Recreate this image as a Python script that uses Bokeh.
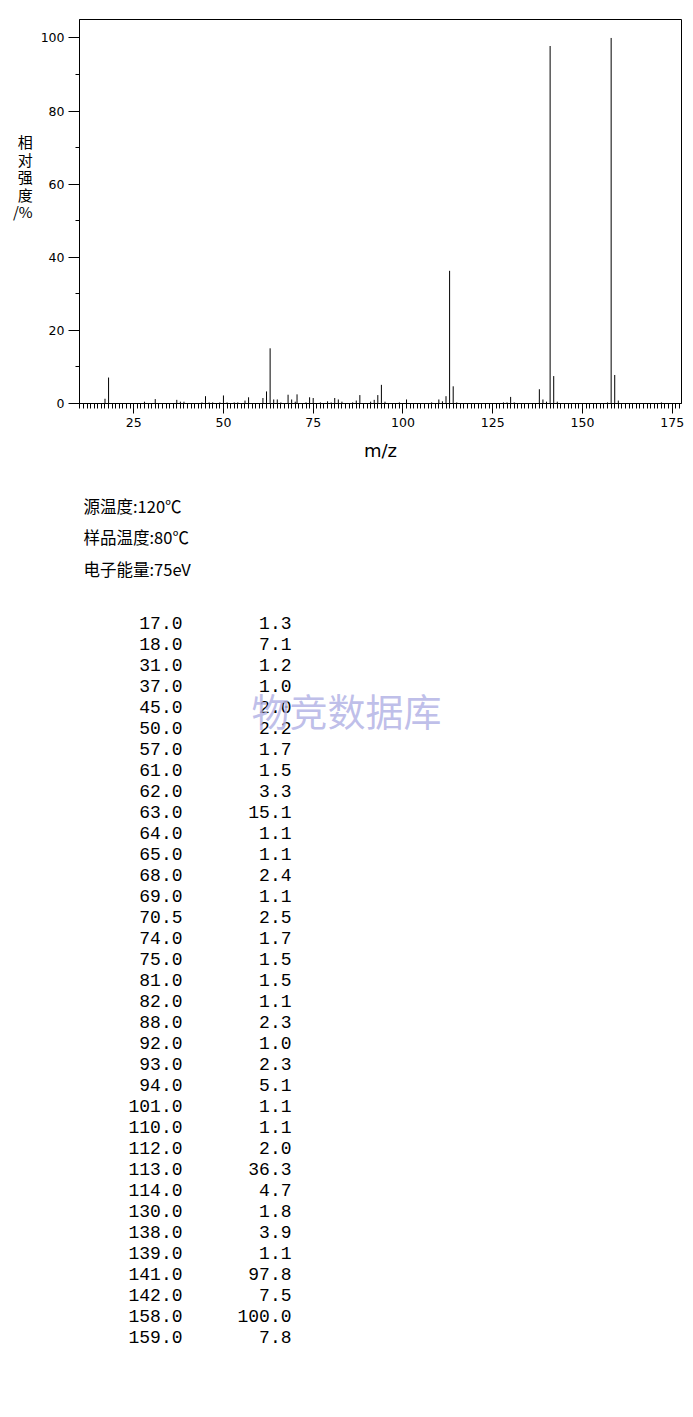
import math
from bokeh.plotting import figure
from bokeh.models import Range1d, ColumnDataSource, SingleIntervalTicker
from bokeh.layouts import column
from bokeh.core.properties import value
from bokeh.embed import file_html
from bokeh.resources import INLINE

# ---- data ----
# listed peaks (m/z, relative intensity %)
table_mz = [17.0, 18.0, 31.0, 37.0, 45.0, 50.0, 57.0, 61.0, 62.0, 63.0, 64.0, 65.0,
            68.0, 69.0, 70.5, 74.0, 75.0, 81.0, 82.0, 88.0, 92.0, 93.0, 94.0, 101.0,
            110.0, 112.0, 113.0, 114.0, 130.0, 138.0, 139.0, 141.0, 142.0, 158.0, 159.0]
table_int = [1.3, 7.1, 1.2, 1.0, 2.0, 2.2, 1.7, 1.5, 3.3, 15.1, 1.1, 1.1,
             2.4, 1.1, 2.5, 1.7, 1.5, 1.5, 1.1, 2.3, 1.0, 2.3, 5.1, 1.1,
             1.1, 2.0, 36.3, 4.7, 1.8, 3.9, 1.1, 97.8, 7.5, 100.0, 7.8]
# weak peaks (< 1 %)
minor_mz = [28, 38, 39, 44, 46, 47, 49, 51, 53, 54, 56, 66, 70, 73, 77, 79, 80, 83,
            86, 87, 91, 95, 99, 108, 111, 115, 128, 129, 131, 140, 143, 157, 160, 172]
minor_int = [0.5, 0.5, 0.5, 0.3, 0.3, 0.3, 0.3, 0.3, 0.3, 0.3, 0.8, 0.3, 0.5, 0.3,
             0.3, 0.6, 0.3, 0.5, 0.3, 0.8, 0.5, 0.5, 0.3, 0.3, 0.6, 0.3, 0.3, 0.3,
             0.3, 0.5, 0.5, 0.3, 0.8, 0.3]
x_label = "m/z"
y_label_chars = ["相", "对", "强", "度", "/%"]
conditions = ["源温度:120℃", "样品温度:80℃", "电子能量:75eV"]
watermark = "物竞数据库"

# ---- spectrum ----
X0, X1 = 9.9, 177.6
Y0, Y1 = 0, 105.05
all_mz = table_mz + minor_mz
all_int = table_int + minor_int
src = ColumnDataSource(dict(x=all_mz, y0=[0] * len(all_mz), y1=all_int))

W = 690
p = figure(width=W, height=480, output_backend="svg", toolbar_location=None,
           x_range=Range1d(X0, X1), y_range=Range1d(Y0, Y1),
           min_border_left=79, min_border_right=W - 681, min_border_top=19,
           min_border_bottom=77)
p.segment(x0="x", y0="y0", x1="x", y1="y1", source=src, line_color="black", line_width=1)

p.xgrid.visible = False
p.ygrid.visible = False
p.outline_line_color = "black"
p.outline_line_width = 1
p.background_fill_color = "white"
p.border_fill_color = "white"

xa = p.xaxis[0]
xa.ticker = SingleIntervalTicker(interval=25, num_minor_ticks=25)
xa.major_tick_out = 10
xa.major_tick_in = 0
xa.minor_tick_out = 5
xa.minor_tick_in = 0
xa.axis_line_color = "black"
xa.major_label_text_font = "DejaVu Sans"
xa.major_label_text_font_size = "12.5px"
xa.major_label_text_color = "black"
xa.major_label_standoff = 4
xa.axis_label = x_label
xa.axis_label_text_font = "DejaVu Sans"
xa.axis_label_text_font_size = "18px"
xa.axis_label_text_font_style = "normal"
xa.axis_label_text_color = "black"
xa.axis_label_standoff = 10

ya = p.yaxis[0]
ya.ticker = SingleIntervalTicker(interval=20, num_minor_ticks=2)
ya.major_tick_out = 11
ya.major_tick_in = 0
ya.minor_tick_out = 4
ya.minor_tick_in = 0
ya.axis_line_color = "black"
ya.major_label_text_font = "DejaVu Sans"
ya.major_label_text_font_size = "12.5px"
ya.major_label_text_color = "black"
ya.major_label_standoff = 4
ya.axis_label_text_font = "Noto Sans CJK SC"
ya.axis_label_text_font_size = "15px"
ya.axis_label_text_font_style = "normal"
ya.axis_label_text_color = "black"
ya.axis_label_text_line_height = 0.83
ya.axis_label_standoff = 5
# stacked vertical title; trailing empty lines lift the block above the frame centre
try:
    ya.axis_label_orientation = "horizontal"
    ya.axis_label = "\n".join(y_label_chars) + "\n\n\n\n"
except Exception:
    ya.axis_label = "".join(y_label_chars)

# ---- text panel below (coordinates = page pixels) ----
q = figure(width=W, height=930, output_backend="svg", toolbar_location=None,
           x_range=Range1d(79, 681), y_range=Range1d(1410, 480),
           min_border_left=79, min_border_right=W - 681,
           min_border_top=0, min_border_bottom=0)
q.axis.visible = False
q.grid.visible = False
q.outline_line_color = None
q.background_fill_color = "white"
q.border_fill_color = "white"

cond_y = [505, 536, 568]
q.text(x=[83] * len(conditions), y=cond_y, text=conditions,
       text_font=value("Noto Sans CJK SC"), text_font_size=value("16.5px"),
       text_align="left", text_baseline="middle", text_color="black")

rows_y = [622 + 21 * i for i in range(len(table_mz))]
q.text(x=[182] * len(table_mz), y=rows_y, text=[f"{v:.1f}" for v in table_mz],
       text_font=value("Liberation Mono"), text_font_size=value("18px"),
       text_align="right", text_baseline="middle", text_color="black")
q.text(x=[291] * len(table_int), y=rows_y, text=[f"{v:.1f}" for v in table_int],
       text_font=value("Liberation Mono"), text_font_size=value("18px"),
       text_align="right", text_baseline="middle", text_color="black")

q.text(x=[346], y=[709], text=[watermark],
       text_font=value("Noto Sans CJK SC"), text_font_size=value("38px"),
       text_align="center", text_baseline="middle", text_color="#b4b4e6",
       text_alpha=0.85)

layout = column(p, q, spacing=0)
open("out.html", "w").write(file_html(layout, INLINE))
